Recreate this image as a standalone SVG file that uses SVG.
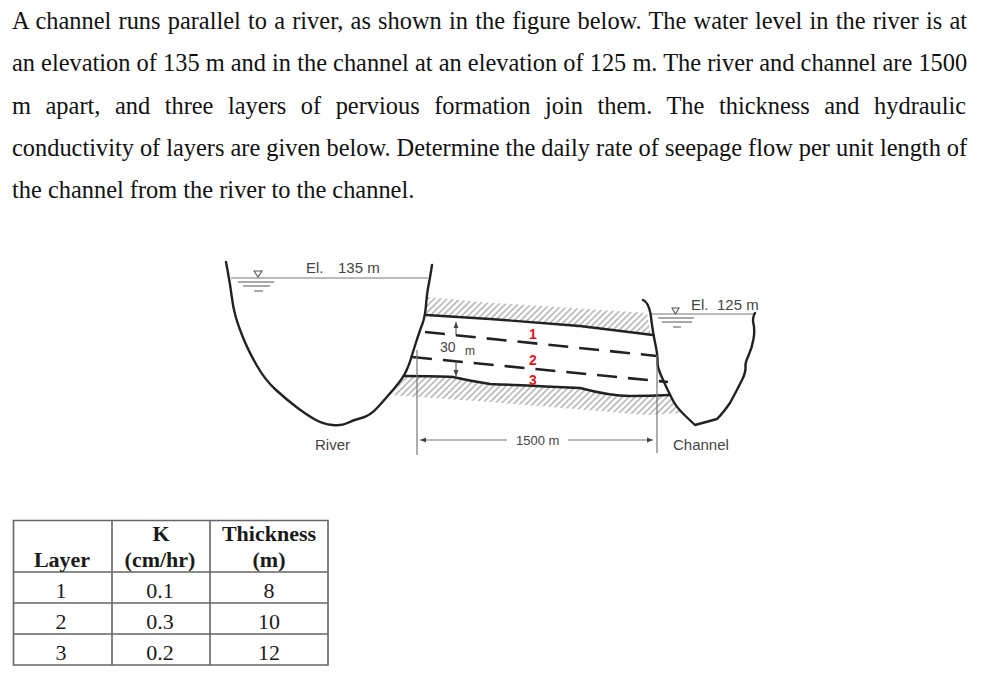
<svg xmlns="http://www.w3.org/2000/svg" width="1003" height="678" viewBox="0 0 1003 678">
<style>
.p{font:24.4px "Liberation Serif",serif;fill:#111}
.d{font:15px "Liberation Sans",Arial,sans-serif;fill:#444}
.r{font:bold 14px "Liberation Sans",Arial,sans-serif;fill:#e8141c;text-anchor:middle}
.t{font:22px "Liberation Serif",serif;fill:#1a1a1a;text-anchor:middle}
.b{font-weight:bold}
.bank{fill:none;stroke:#222;stroke-width:2.4;stroke-linejoin:round;stroke-linecap:round}
.dash{fill:none;stroke:#222;stroke-width:2.6;stroke-dasharray:20 11}
.thin{fill:none;stroke:#777;stroke-width:1.2}
.dark{fill:none;stroke:#444;stroke-width:1}
.tl{fill:none;stroke:#666;stroke-width:1.6}
.sym{fill:none;stroke:#555;stroke-width:1.1}
</style>
<defs>
<pattern id="h" width="4.5" height="4.5" patternUnits="userSpaceOnUse" patternTransform="rotate(45)"><rect width="4.5" height="4.5" fill="#fff"/><rect width="1.6" height="4.5" fill="#b5b5b5"/></pattern>
<marker id="a" markerWidth="7" markerHeight="6" refX="6" refY="3" orient="auto-start-reverse" markerUnits="userSpaceOnUse"><path d="M0 0.5L6 3L0 5.5z" fill="#444"/></marker>
</defs>
<rect width="1003" height="678" fill="#fff"/>
<g id="problem-text">
<text class="p" x="12" y="29" word-spacing="1.1">A channel runs parallel to a river, as shown in the figure below. The water level in the river is at</text>
<text class="p" x="12" y="71">an elevation of 135 m and in the channel at an elevation of 125 m. The river and channel are 1500</text>
<text class="p" x="12" y="114" word-spacing="8.46">m apart, and three layers of pervious formation join them. The thickness and hydraulic</text>
<text class="p" x="12" y="156" word-spacing="-0.1">conductivity of layers are given below. Determine the daily rate of seepage flow per unit length of</text>
<text class="p" x="12" y="198">the channel from the river to the channel.</text>
</g>
<g id="hatching">
<path fill="url(#h)" d="M428 297L480 302L647 313L651 335L480 318L426 315z"/>
<path fill="url(#h)" d="M405 376L453 377L490 384L580 388L630 396L670 395L677 408L682 413L647 415L490 402L390 395z"/>
</g>
<g id="river">
<path class="thin" d="M231 278H428"/>
<path class="sym" d="M254 271H262L258 277zM238 282H274M243 286H270M254 291H263"/>
<path class="bank" d="M226 262Q230 283 231.500 295Q233 307 235.500 316Q238 325 243 337.500Q248 350 256.500 365Q265 380 276 390Q287 400 297 407.500Q307 415 315 419.500Q323 424 332.500 425Q342 426 347.500 423Q353 420 361.500 418Q370 416 378.500 406.500Q387 397 395 387.500Q403 378 406 371.500Q409 365 410.500 360Q412 355 416 342.500Q420 330 422.500 323.500Q425 317 426 305Q427 293 428.500 285.500Q430 278 432 265"/>
<text class="d" x="306" y="273">El.</text><text class="d" x="338" y="273">135 m</text>
<text class="d" x="315" y="450">River</text>
</g>
<g id="channel">
<path class="thin" d="M650 314H755"/>
<path class="sym" d="M672 308H679L675.500 314zM658 318H694M662 322H692M673 327H681"/>
<path class="bank" d="M643 300Q650 303 651.500 321.500Q653 333 655.500 345Q658 357 657.500 362Q657 367 663.500 381Q670 395 673.500 401.500Q677 408 686 416.500L695 425Q706 422 717 419Q723 413 730 403Q736 392 742 380Q746 372 745.500 366.500Q745 363 748.500 355.500Q752 348 753.500 339Q755 330 753.500 324Q752 318 755 313"/>
<text class="d" x="691" y="310">El.</text><text class="d" x="717" y="310">125 m</text>
<text class="d" x="673" y="450">Channel</text>
</g>
<g id="layers">
<path class="bank" d="M426 315L490 319L580 326L653 335"/>
<path class="bank" d="M405 376Q440 376 453 377Q470 381 490 384Q540 386 580 388Q610 396 630 396Q650 396 670 395"/>
<path class="dash" d="M425 332L657 356"/>
<path class="dash" d="M412 357L668 382"/>
<text class="r" x="533" y="339">1</text><text class="r" x="533" y="365">2</text><text class="r" x="533" y="385">3</text>
<text class="d" x="440" y="352" style="font-size:14px">30</text><text class="d" x="465" y="355" style="font-size:12px">m</text>
</g>
<g id="connectors">
<path class="dark" marker-start="url(#a)" d="M456 322V335"/>
<path class="dark" marker-end="url(#a)" d="M456 361V376"/>
<path class="thin" d="M417 350V455M657 355V453"/>
<path class="thin" marker-start="url(#a)" d="M420 440H507"/>
<path class="thin" marker-end="url(#a)" d="M568 440H653"/>
<text class="d" x="516" y="445" style="font-size:13px">1500 m</text>
</g>
<g id="table">
<path class="tl" d="M13.500 520.500H328V665H13.500zM112 520.500V665M210 520.500V665M13.500 572H328M13.500 603H328M13.500 634H328"/>
<text class="t b" x="161" y="541">K</text><text class="t b" x="269" y="541">Thickness</text>
<text class="t b" x="62" y="567">Layer</text><text class="t b" x="160" y="567">(cm/hr)</text><text class="t b" x="269" y="567">(m)</text>
<text class="t" x="61" y="598">1</text><text class="t" x="160" y="598">0.1</text><text class="t" x="269" y="598">8</text>
<text class="t" x="61" y="629">2</text><text class="t" x="160" y="629">0.3</text><text class="t" x="269" y="629">10</text>
<text class="t" x="61" y="660">3</text><text class="t" x="160" y="660">0.2</text><text class="t" x="269" y="660">12</text>
</g>
</svg>
